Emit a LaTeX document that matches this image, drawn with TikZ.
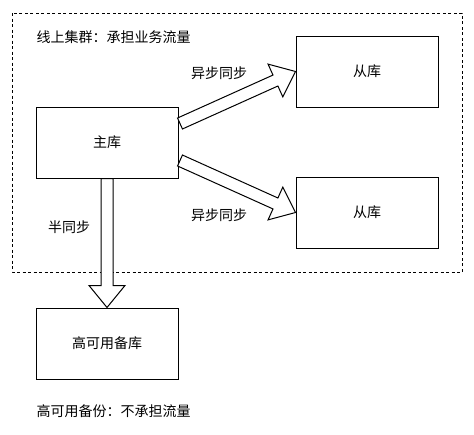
\documentclass[tikz,border=0pt]{standalone}
\usepackage{fontspec}
\setmainfont{Noto Sans CJK SC}
\usetikzlibrary{calc}
\newcommand{\blockarrow}[2]{%
  \draw[flow] ($(#1)!6pt!90:(#2)$) -- ($($(#2)!22pt!(#1)$)!6pt!90:(#2)$)
    -- ($($(#2)!22pt!(#1)$)!18pt!90:(#2)$) -- (#2)
    -- ($($(#2)!22pt!(#1)$)!18pt!-90:(#2)$) -- ($($(#2)!22pt!(#1)$)!6pt!-90:(#2)$)
    -- ($(#1)!6pt!-90:(#2)$) -- cycle;}

\begin{document}
\begin{tikzpicture}[x=1pt, y=-1pt,
    every node/.style={font=\fontsize{14}{16}\selectfont},
    db/.style={draw, line width=1pt, minimum width=142pt, minimum height=71pt, inner sep=0pt},
    flow/.style={draw, line width=1pt, fill=white, line join=miter},
    cluster/.style={draw, line width=0.9pt, dash pattern=on 3pt off 2.5pt}]
  \useasboundingbox (0,0) rectangle (474,434);

  \draw[cluster] (12,13) rectangle (462,272);

  \node[db] (master) at (107,142.5) {主库};
  \node[db] (slaveA) at (367,71.5) {从库};
  \node[db] (slaveB) at (367,212.5) {从库};
  \node[db] (backup) at (107,343.5) {高可用备库};

  \coordinate (tailA) at ($(master.east)+(1.5,-19)$);
  \coordinate (tailB) at ($(master.east)+(1.5,18)$);
  \blockarrow{tailA}{slaveA.west}
  \blockarrow{tailB}{slaveB.west}
  \blockarrow{master.south}{backup.north}

  \node[anchor=west] (online) at (33,37) {线上集群：承担业务流量};
  \node[anchor=west] (standby) at (33,411) {高可用备份：不承担流量};
  \node (asyncA) at (219,73) {异步同步};
  \node (asyncB) at (219,215) {异步同步};
  \node (semi) at (69,227) {半同步};
\end{tikzpicture}
\end{document}
